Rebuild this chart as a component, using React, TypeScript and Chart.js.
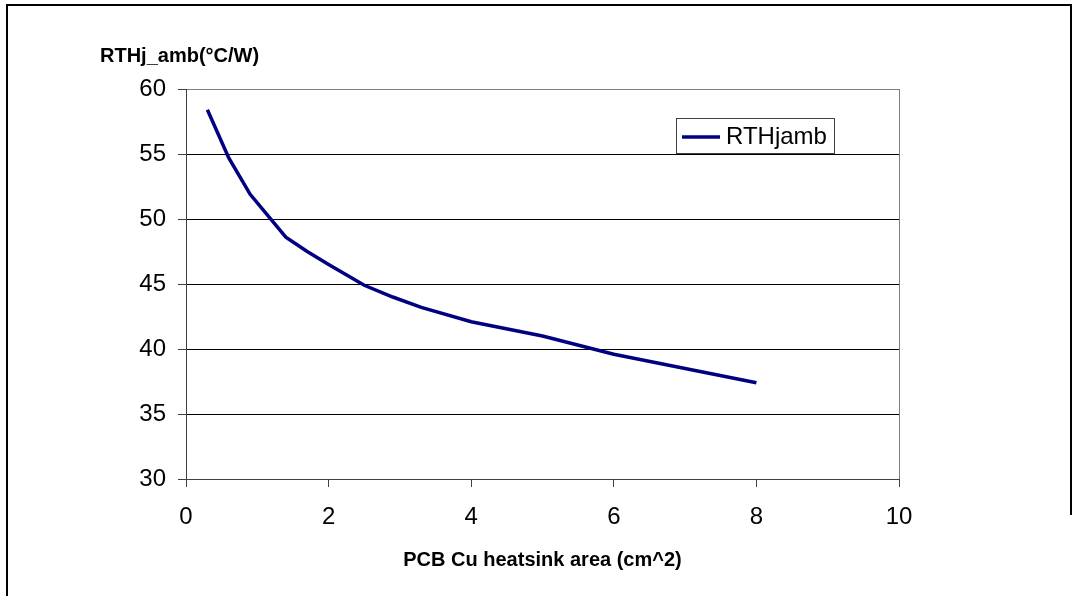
import React, { useEffect, useRef } from "react";
import { Chart, registerables } from "chart.js";

Chart.register(...registerables);

const areaCm2 = [0.3, 0.6, 0.9, 1.4, 1.7, 2.0, 2.5, 2.9, 3.3, 4, 5, 6, 7, 8];
const rthJamb = [58.4, 54.7, 51.9, 48.6, 47.5, 46.5, 44.9, 44.0, 43.2, 42.1, 41.0, 39.6, 38.5, 37.4];
const seriesName = "RTHjamb";
const yTitle = "RTHj_amb(°C/W)";
const xTitle = "PCB Cu heatsink area (cm^2)";

const FONT = "'Liberation Sans', Arial, sans-serif";
const NAVY = "#000080";

const decorPlugin = {
  id: "decor",
  afterDraw(chart: any) {
    const { ctx, chartArea } = chart;
    ctx.save();
    // outer frame
    ctx.strokeStyle = "#000";
    ctx.lineWidth = 2;
    ctx.beginPath();
    ctx.moveTo(7, 596);
    ctx.lineTo(7, 5);
    ctx.lineTo(1071, 5);
    ctx.lineTo(1071, 515);
    ctx.stroke();
    // plot right border
    ctx.strokeStyle = "#808080";
    ctx.lineWidth = 1;
    ctx.beginPath();
    ctx.moveTo(Math.round(chartArea.right) + 0.5, chartArea.top);
    ctx.lineTo(Math.round(chartArea.right) + 0.5, chartArea.bottom);
    ctx.stroke();
    // titles
    ctx.fillStyle = "#000";
    ctx.font = `bold 20px ${FONT}`;
    ctx.textAlign = "left";
    ctx.textBaseline = "alphabetic";
    ctx.fillText(yTitle, 100, 62);
    ctx.textAlign = "center";
    ctx.fillText(xTitle, (chartArea.left + chartArea.right) / 2, 566);
    // legend
    const lx = 676.5, ly = 118.5, lw = 158, lh = 35;
    ctx.fillStyle = "#fff";
    ctx.fillRect(lx, ly, lw, lh);
    ctx.strokeStyle = "#404040";
    ctx.lineWidth = 1;
    ctx.strokeRect(lx, ly, lw, lh);
    ctx.strokeStyle = NAVY;
    ctx.lineWidth = 3.5;
    ctx.beginPath();
    ctx.moveTo(682, 137);
    ctx.lineTo(720, 137);
    ctx.stroke();
    ctx.fillStyle = "#000";
    ctx.font = `24px ${FONT}`;
    ctx.textAlign = "left";
    ctx.textBaseline = "middle";
    ctx.fillText(seriesName, 726, 137);
    ctx.restore();
  },
};

export default function App() {
  const ref = useRef<HTMLCanvasElement>(null);
  useEffect(() => {
    if (!ref.current) return;
    const chart = new Chart(ref.current, {
      type: "scatter",
      data: {
        datasets: [
          {
            label: seriesName,
            data: areaCm2.map((x, i) => ({ x, y: rthJamb[i] })),
            showLine: true,
            borderColor: NAVY,
            backgroundColor: NAVY,
            borderWidth: 3.5,
            pointRadius: 0,
            tension: 0,
          },
        ],
      },
      options: {
        responsive: false,
        animation: false,
        layout: { padding: { left: 0, top: 89, right: 181, bottom: 67 } },
        plugins: { legend: { display: false }, tooltip: { enabled: false } },
        scales: {
          x: {
            type: "linear",
            min: 0,
            max: 10,
            afterFit: (s: any) => {
              s.height = 50;
            },
            ticks: {
              stepSize: 2,
              color: "#000",
              font: { family: FONT, size: 24 },
              padding: 16,
            },
            grid: {
              drawOnChartArea: false,
              drawTicks: true,
              tickLength: 8,
              tickColor: "#404040",
              color: "#404040",
            },
            border: { display: true, color: "#404040", width: 1 },
          },
          y: {
            min: 30,
            max: 60,
            afterFit: (s: any) => {
              s.width = 186;
            },
            ticks: {
              stepSize: 5,
              color: "#000",
              font: { family: FONT, size: 24 },
              padding: 12,
            },
            grid: {
              drawTicks: true,
              tickLength: 8,
              tickColor: "#404040",
              color: (c: any) => (c.tick && c.tick.value === 60 ? "#808080" : "#000"),
              lineWidth: 1,
            },
            border: { display: true, color: "#404040", width: 1 },
          },
        },
      },
      plugins: [decorPlugin],
    });
    return () => chart.destroy();
  }, []);
  return (
    <div style={{ position: "fixed", left: 0, top: 0, width: 1080, height: 596, background: "#fff" }}>
      <canvas ref={ref} width={1080} height={596} />
    </div>
  );
}
